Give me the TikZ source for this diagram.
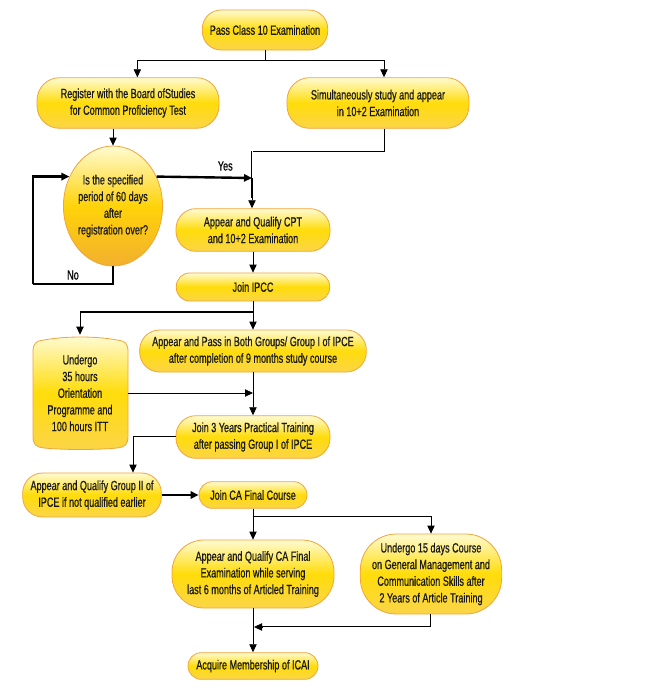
\documentclass[tikz,border=0pt]{standalone}
\usepackage{fontspec}
\setmainfont{Liberation Sans}[FakeStretch=0.68,FakeBold=0.6]
\usetikzlibrary{arrows.meta,shapes.geometric}

\definecolor{rimorange}{HTML}{EFA53A}
\definecolor{paleyellow}{HTML}{FFFBD2}
\definecolor{goldyellow}{HTML}{FFDC0A}
\definecolor{lowyellow}{HTML}{FBD548}
\definecolor{ballorange}{HTML}{F2B02E}

\begin{document}
\begin{tikzpicture}[x=0.75pt,y=-0.75pt,font=\fontsize{10}{12.5}\selectfont]
% Box style
\tikzset{
    glow/.style={draw=rimorange, line width=0.6pt,
        top color=paleyellow, bottom color=lowyellow, middle color=goldyellow},
    stage/.style={glow, rounded corners=#1, align=center, inner sep=1pt, text=black!90},
    stage/.default=10pt,
    query/.style={ellipse, draw=rimorange, line width=0.6pt,
        top color=paleyellow, bottom color=ballorange, middle color=goldyellow!90!orange,
        align=center, inner sep=0pt, text=black!90},
    flow/.style={-{Triangle[length=6pt,width=5.5pt]}, line width=0.6pt},
    heavy/.style={line width=1.8pt},
    twin/.style={white, line width=0.7pt, preaction={draw=black, line width=2.1pt}}
}
\useasboundingbox (0,0) rectangle (646,693);

% Barrel behind the orientation step
\path[glow] (33,352) .. controls (33,343) and (36,341) .. (44,340)
    .. controls (65,336) and (96,336) .. (117,340)
    .. controls (125,341) and (128,343) .. (128,352) -- (128,436)
    .. controls (128,445) and (125,447) .. (117,448)
    .. controls (96,450) and (65,450) .. (44,448)
    .. controls (36,447) and (33,445) .. (33,436) -- cycle;

% Nodes
\node[stage=14pt, minimum width=94pt, minimum height=30pt]
    (pass) at (265,30) {Pass Class 10 Examination};
\node[stage=17pt, minimum width=136.5pt, minimum height=38pt]
    (reg) at (128,103) {Register with the Board ofStudies\\for Common Proficiency Test};
\node[stage=17pt, minimum width=136.5pt, minimum height=38pt]
    (sim) at (378,103) {Simultaneously study and appear\\in 10+2 Examination};
\node[query, minimum width=72pt, minimum height=90pt]
    (ask) at (113,206) {Is the specified\\period of 60 days\\after\\registration over?};
\node[stage=15pt, minimum width=115.5pt, minimum height=32pt]
    (cpt) at (253,230) {Appear and Qualify CPT\\and 10+2 Examination};
\node[stage, minimum width=115pt, minimum height=21pt]
    (ipcc) at (253,287) {Join IPCC};
\node[align=center, inner sep=1pt, text=black!90, minimum width=71pt, minimum height=83pt]
    (orient) at (80,393) {Undergo\\35 hours\\Orientation\\Programme and\\100 hours ITT};
\node[stage=15pt, minimum width=170pt, minimum height=31.5pt]
    (both) at (253,351) {Appear and Pass in Both Groups/ Group I of IPCE\\after completion of 9 months study course};
\node[stage=15pt, minimum width=115.5pt, minimum height=32pt]
    (train) at (253,437) {Join 3 Years Practical Training\\after passing Group I of IPCE};
\node[stage=15pt, minimum width=104pt, minimum height=33pt]
    (grp) at (92,495) {Appear and Qualify Group II of\\IPCE if not qualified earlier};
\node[stage, minimum width=81pt, minimum height=20pt]
    (final) at (253,495) {Join CA Final Course};
\node[stage=24pt, minimum width=121.5pt, minimum height=51pt]
    (exam) at (253,574) {Appear and Qualify CA Final\\Examination while serving\\last 6 months of Articled Training};
\node[stage=27pt, minimum width=106pt, minimum height=60pt]
    (course) at (431,574) {Undergo 15 days Course\\on General Management and\\Communication Skills after\\2 Years of Article Training};
\node[stage, minimum width=97.5pt, minimum height=20pt]
    (icai) at (253,666) {Acquire Membership of ICAI};

% Junctions
\coordinate (top) at (265,60);
\coordinate (turn) at (252,151);
\coordinate (merge) at (252,178);
\coordinate (drop) at (252,198);
\coordinate (loop) at (33,284);
\coordinate (fork) at (253,312);
\coordinate (bend) at (133,437);
\coordinate (split) at (253,516);
\coordinate (rejoin) at (262,627);
\coordinate (join) at (254,627);

% Connections
\draw[line width=0.6pt] (pass.south) -- (top);
\draw[flow] (top) -| ([xshift=7pt]reg.north);
\draw[flow] (top) -| ([xshift=4.5pt]sim.north);
\draw[flow] (ask.north |- reg.south) -- (ask.north);

\draw[line width=0.6pt] ([xshift=4.5pt]sim.south) |- (turn);
\draw[twin] (turn) -- (merge);
\draw[heavy] (merge) -- (drop);
\draw[flow] (drop) -- (cpt.north -| drop);
\draw[flow, heavy] (ask.34) -- (merge) node[pos=0.72, above=1pt] (yes) {Yes};
\draw[heavy] (ask.south) |- (loop);
\draw[flow, heavy] (loop) |- (ask.146);
\node (no) at (73,275) {No};

\draw[flow] (cpt) -- (ipcc);
\draw[line width=0.6pt] (ipcc) -- (fork);
\draw[heavy] (fork) -- (orient.north |- fork);
\draw[flow] (orient.north |- fork) -- ([yshift=2pt]orient.north);
\draw[flow] (fork) -- (both);
\draw[flow] (both) -- (train);
\draw[flow] (orient.east) -- (orient.east -| both);

\draw[twin] (train.west) -- (bend);
\draw[flow] (bend) -- (grp.north -| bend);
\draw[flow, heavy] (grp) -- (final);

\draw[line width=0.6pt] (final) -- (split);
\draw[flow] (split) -- (exam);
\draw[flow] (split) -| (course.north);
\draw[flow] (exam) -- (icai);
\draw[twin] (course.south) |- (rejoin);
\draw[flow] (rejoin) -- (join);
\end{tikzpicture}
\end{document}
